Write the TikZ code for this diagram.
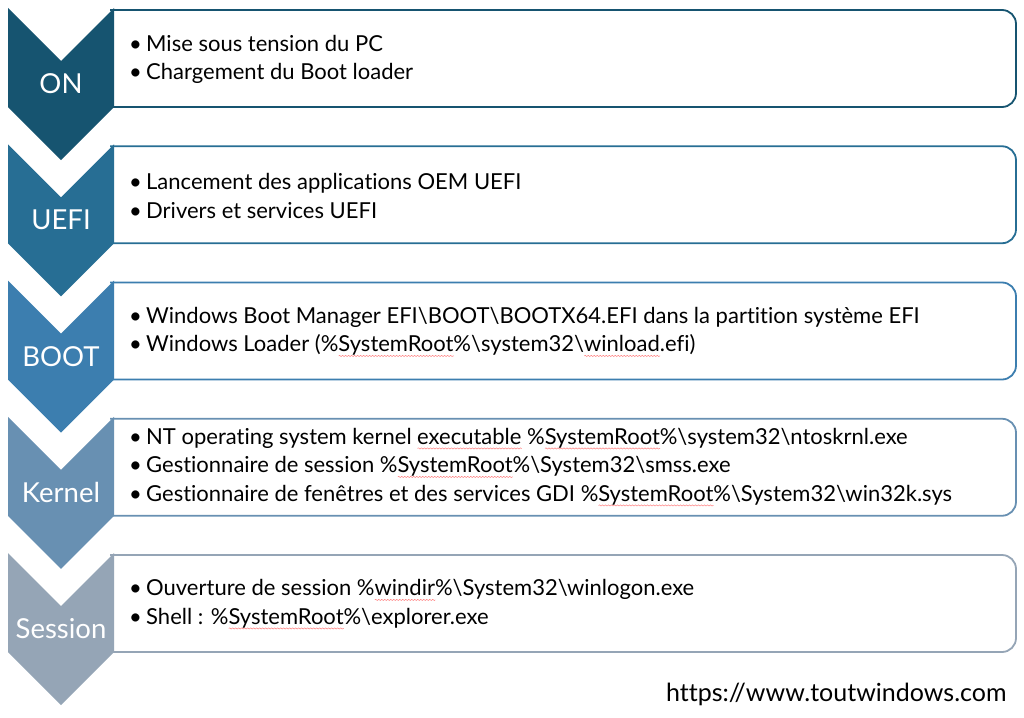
\documentclass[tikz,border=0pt]{standalone}
\usepackage{fontspec}
\setmainfont{Lato}[Ligatures=NoCommon]
\usetikzlibrary{decorations.pathmorphing}

\definecolor{onblue}{HTML}{165470}
\definecolor{uefiblue}{HTML}{276E94}
\definecolor{bootblue}{HTML}{3C7EAF}
\definecolor{kernelblue}{HTML}{6890B2}
\definecolor{sessiongrey}{HTML}{95A5B6}

\newsavebox\wordbox
\newlength\wordwd
\newcommand\spellwave[1]{\sbox\wordbox{#1}\setlength\wordwd{\wd\wordbox}%
  \rlap{\tikz[baseline=0pt]\draw[red!50, line width=0.5pt,
    decoration={snake, amplitude=0.6pt, segment length=3pt}, decorate]
    (0pt,-4pt) -- (\wordwd,-4pt);}\usebox\wordbox}
\newcommand\bs{\textbackslash}
\newcommand\itm{\makebox[17pt][l]{\textbullet}}

\begin{document}
\begin{tikzpicture}[x=1pt, y=-1pt,
  stepbox/.style={draw=#1, line width=1.8pt, fill=white, rounded corners=14pt},
  stagename/.style={text=white, font=\fontsize{27.5}{32}\selectfont},
  items/.style={anchor=west, align=left, inner sep=0pt, font=\fontsize{22}{28.5}\selectfont}]
\useasboundingbox (0,0) rectangle (1024,717);

% ON
\draw[stepbox=onblue] (110,10) -- (1016,10) -- (1016,107) -- (110,107);
\fill[onblue] (8,8) -- (61,61) -- (114,8) -- (114,107) -- (61,160) -- (8,107) -- cycle;
\node[stagename] (on) at (61,84) {ON};
\node[items] (onlist) at (129,59.5) {\itm Mise sous tension du PC\\
  \itm Chargement du Boot loader};

% UEFI
\begin{scope}[yshift=-136.25pt]
\draw[stepbox=uefiblue] (110,10) -- (1016,10) -- (1016,107) -- (110,107);
\fill[uefiblue] (8,8) -- (61,61) -- (114,8) -- (114,107) -- (61,160) -- (8,107) -- cycle;
\node[stagename] (uefi) at (61,84) {UEFI};
\node[items] (uefilist) at (129,59.5) {\itm Lancement des applications OEM UEFI\\
  \itm Drivers et services UEFI};
\end{scope}

% BOOT
\begin{scope}[yshift=-272.5pt]
\draw[stepbox=bootblue] (110,10) -- (1016,10) -- (1016,107) -- (110,107);
\fill[bootblue] (8,8) -- (61,61) -- (114,8) -- (114,107) -- (61,160) -- (8,107) -- cycle;
\node[stagename] (boot) at (61,84) {BOOT};
\node[items] (bootlist) at (129,59.5) {\itm Windows Boot Manager EFI\bs BOOT\bs BOOTX64.EFI dans la partition système EFI\\
  \itm Windows Loader (\%\spellwave{SystemRoot}\%\bs system32\bs \spellwave{winload}.efi)};
\end{scope}

% Kernel
\begin{scope}[yshift=-408.75pt]
\draw[stepbox=kernelblue] (110,10) -- (1016,10) -- (1016,107) -- (110,107);
\fill[kernelblue] (8,8) -- (61,61) -- (114,8) -- (114,107) -- (61,160) -- (8,107) -- cycle;
\node[stagename] (kernel) at (61,84) {Kernel};
\node[items] (kernellist) at (129,58.5) {\itm NT operating system kernel \spellwave{executable} \%\spellwave{SystemRoot}\%\bs system32\bs ntoskrnl.exe\\
  \itm Gestionnaire de session \%\spellwave{SystemRoot}\%\bs System32\bs smss.exe\\
  \itm Gestionnaire de fenêtres et des services GDI \%\spellwave{SystemRoot}\%\bs System32\bs win32k.sys};
\end{scope}

% Session
\begin{scope}[yshift=-545pt]
\draw[stepbox=sessiongrey] (110,10) -- (1016,10) -- (1016,107) -- (110,107);
\fill[sessiongrey] (8,8) -- (61,61) -- (114,8) -- (114,107) -- (61,160) -- (8,107) -- cycle;
\node[stagename] (session) at (61,84) {Session};
\node[items] (sessionlist) at (129,59.5) {\itm Ouverture de session \%\spellwave{windir}\%\bs System32\bs winlogon.exe\\
  \itm Shell : \%\spellwave{SystemRoot}\%\bs explorer.exe};
\end{scope}

\node[anchor=east, font=\fontsize{25}{30}\selectfont] (url) at (1010,694) {https://www.toutwindows.com};

\end{tikzpicture}
\end{document}
